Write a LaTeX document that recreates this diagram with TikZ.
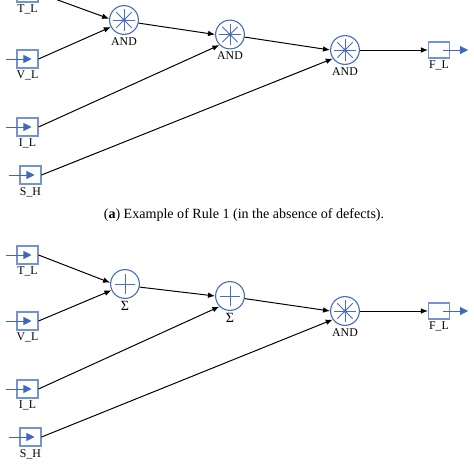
\documentclass[tikz,border=0pt]{standalone}
\usepackage{fontspec}
\setmainfont{Liberation Serif}
\usetikzlibrary{arrows.meta}

\definecolor{gateblue}{RGB}{72,110,190}
\definecolor{portblue}{RGB}{115,148,208}
\definecolor{tipblue}{RGB}{62,104,192}

\begin{document}
\begin{tikzpicture}[x=0.025cm, y=-0.025cm, label distance=0.4mm,
  every label/.style={font=\fontsize{8.4}{9}\selectfont, inner sep=0.5pt},
  port/.style={draw=portblue, line width=0.9pt, fill=white, minimum width=5.2mm, minimum height=4.5mm, inner sep=0pt},
  gate/.style={circle, draw=gateblue, line width=0.8pt, fill=white, minimum size=7.2mm, inner sep=0pt},
  andgate/.style={gate, path picture={
      \foreach \a in {0,45,90,135}
        \draw[gateblue, line width=0.6pt] (path picture bounding box.center) ++(\a:2.7mm) -- ++(\a+180:5.4mm);
      \fill[gateblue] (path picture bounding box.center) circle (0.45mm);}},
  sumgate/.style={gate, path picture={
      \draw[gateblue, line width=0.6pt] (path picture bounding box.center) ++(-2.4mm,0) -- ++(4.8mm,0);
      \draw[gateblue, line width=0.6pt] (path picture bounding box.center) ++(0,-2.4mm) -- ++(0,4.8mm);}},
  conn/.style={-{Latex[length=5pt,width=4pt]}, line width=0.7pt},
  stub/.style={-{Triangle[length=2mm,width=2mm]}, draw=tipblue, line width=0.65pt}
]
  \useasboundingbox (0,0) rectangle (474,474);

  % (a) Rule 1, no defects
  \node[port, label=below:T\_L] (tla) at (27.5,-7) {};
  \node[port, label=below:V\_L] (vla) at (27.5,59) {};
  \node[port, label=below:I\_L] (ila) at (27.5,127) {};
  \node[port, label=below:S\_H] (sha) at (30.5,175) {};
  \node[andgate, label=below:AND] (g1a) at (124,20) {};
  \node[andgate, label=below:AND] (g2a) at (230,34.5) {};
  \node[andgate, label=below:AND] (g3a) at (345,50) {};
  \node[port, minimum height=4mm, label=below:F\_L] (fla) at (439,50) {};

  \draw[conn] (tla.east) -- (g1a.175);
  \draw[conn] (vla.east) -- (g1a.208);
  \draw[conn] (g1a.-12) -- (g2a.180);
  \draw[conn] (ila.east) -- (g2a.225);
  \draw[conn] (g2a.-10) -- (g3a.180);
  \draw[conn] (sha.east) -- (g3a.215);
  \draw[conn] (g3a.east) -- (fla.west);

  \node[font=\fontsize{10}{12}\selectfont] (capa) at (244,215) {(\textbf{a}) Example of Rule 1 (in the absence of defects).};

  % (b) same rule with sum blocks
  \node[port, label=below:T\_L] (tlb) at (27.5,255) {};
  \node[port, label=below:V\_L] (vlb) at (27.5,321) {};
  \node[port, label=below:I\_L] (ilb) at (27.5,389) {};
  \node[port, label=below:S\_H] (shb) at (30.5,437) {};
  \node[sumgate, label={[font=\fontsize{10}{11}\selectfont]below:Σ}] (g1b) at (125,284) {};
  \node[sumgate, label={[font=\fontsize{10}{11}\selectfont]below:Σ}] (g2b) at (230,296) {};
  \node[andgate, label=below:AND] (g3b) at (345,311) {};
  \node[port, minimum height=4mm, label=below:F\_L] (flb) at (439,311) {};

  \draw[conn] (tlb.east) -- (g1b.175);
  \draw[conn] (vlb.east) -- (g1b.205);
  \draw[conn] (g1b.-12) -- (g2b.180);
  \draw[conn] (ilb.east) -- (g2b.225);
  \draw[conn] (g2b.-10) -- (g3b.180);
  \draw[conn] (shb.east) -- (g3b.215);
  \draw[conn] (g3b.east) -- (flb.west);

  % port arrows
  \foreach \p in {tla,vla,ila,sha,tlb,vlb,ilb,shb}
    \draw[stub] ([xshift=-2.5mm]\p.west) -- ([xshift=1mm]\p.center);
  \foreach \p in {fla,flb}
    \draw[stub] ([xshift=1mm]\p.center) -- ([xshift=4.5mm]\p.east);

\end{tikzpicture}
\end{document}
